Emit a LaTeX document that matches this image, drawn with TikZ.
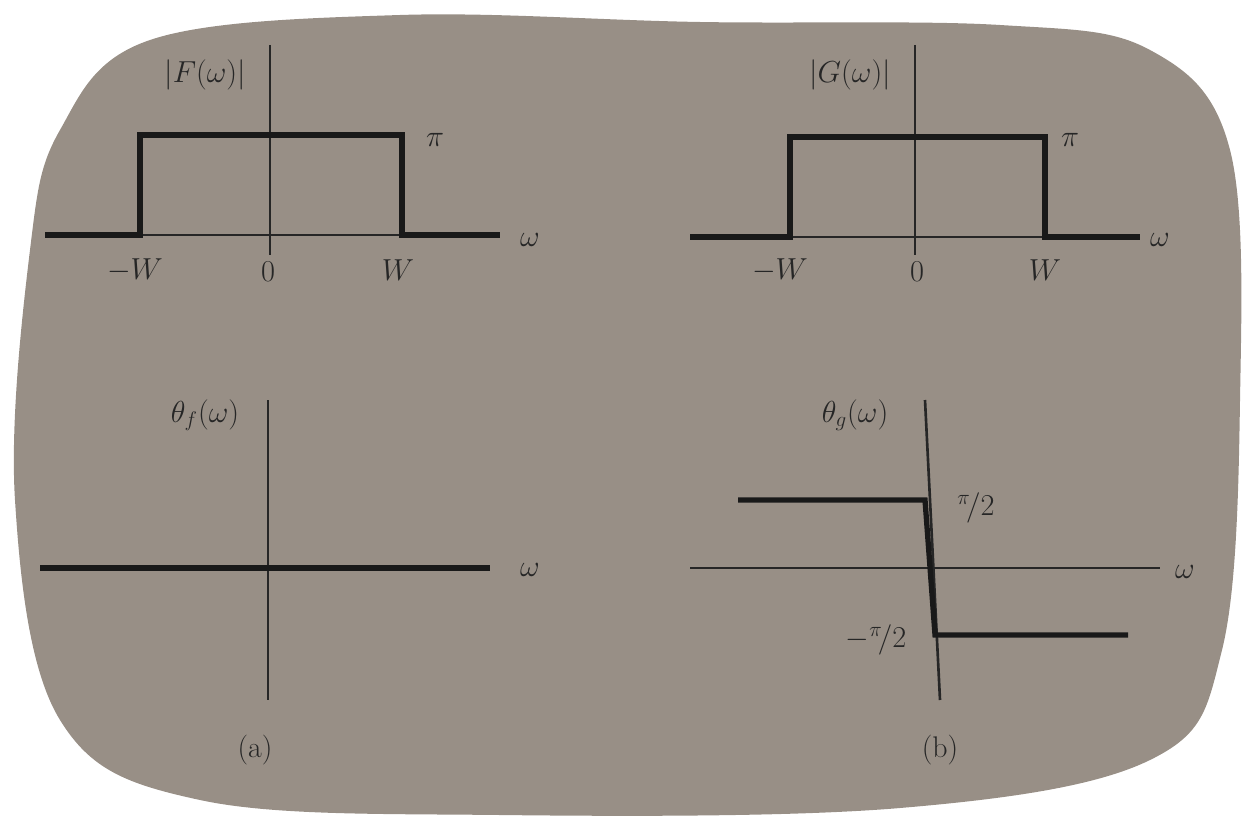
\documentclass[tikz,border=0pt]{standalone}
\usepackage{amsmath}
\begin{document}
\begin{tikzpicture}[x=0.02cm,y=-0.02cm,
  thin axis/.style={line width=1.5pt,black!85},
  thick line/.style={line width=3pt,black!90},
  lab/.style={font=\fontsize{17}{20}\selectfont,text=black!85}]
\useasboundingbox (0,0) rectangle (1246,824);
\definecolor{paper}{RGB}{152,143,134}
\fill[paper] plot[smooth cycle,tension=0.6] coordinates {(60,130)(150,40)(400,15)(700,22)(1000,25)(1150,50)(1230,150)(1240,400)(1222,650)(1150,760)(900,808)(500,815)(200,800)(60,720)(15,500)(30,250)};
% (a) top
\coordinate (a1) at (270,45); \coordinate (a2) at (270,255);
\draw[thin axis] (a1) -- (a2);
\coordinate (h1) at (45,235); \coordinate (h2) at (140,235); \coordinate (h3) at (402,235); \coordinate (h4) at (500,235);
\draw[thin axis] (h2) -- (h3);
\draw[thick line] (h1) -- (h2) -- (140,135) -- (402,135) -- (h3) -- (h4);
\node[lab] (fa) at (205,75) {$|F(\omega)|$};
\node[lab] (pia) at (435,140) {$\pi$};
\node[lab] (wa) at (530,240) {$\omega$};
\node[lab] (mwa) at (135,270) {$-W$};
\node[lab] (za) at (268,272) {$0$};
\node[lab] (Wa) at (398,270) {$W$};
% (a) bottom
\draw[thin axis] (268,400) -- (268,700);
\draw[thick line] (40,568) -- (490,568);
\node[lab] (tf) at (205,415) {$\theta_f(\omega)$};
\node[lab] (wa2) at (530,570) {$\omega$};
\node[lab] (capa) at (255,750) {(a)};
% (b) top
\draw[thin axis] (915,45) -- (915,255);
\draw[thin axis] (790,237) -- (1045,237);
\draw[thick line] (690,237) -- (790,237) -- (790,137) -- (1045,137) -- (1045,237) -- (1140,237);
\node[lab] (gb) at (850,75) {$|G(\omega)|$};
\node[lab] (pib) at (1070,140) {$\pi$};
\node[lab] (wb) at (1160,240) {$\omega$};
\node[lab] (mwb) at (780,270) {$-W$};
\node[lab] (zb) at (917,272) {$0$};
\node[lab] (Wb) at (1045,270) {$W$};
% (b) bottom
\draw[thin axis] (925,400) -- (940,700);
\draw[thin axis] (690,568) -- (1160,568);
\draw[thick line] (738,500) -- (925,500) -- (935,635) -- (1128,635);
\node[lab] (p2) at (976,508) {${}^{\pi}\!/2$};
\node[lab] (mp2) at (876,640) {$-{}^{\pi}\!/2$};
\node[lab] (tg) at (855,415) {$\theta_g(\omega)$};
\node[lab] (wb2) at (1185,572) {$\omega$};
\node[lab] (capb) at (940,750) {(b)};
\end{tikzpicture}
\end{document}
